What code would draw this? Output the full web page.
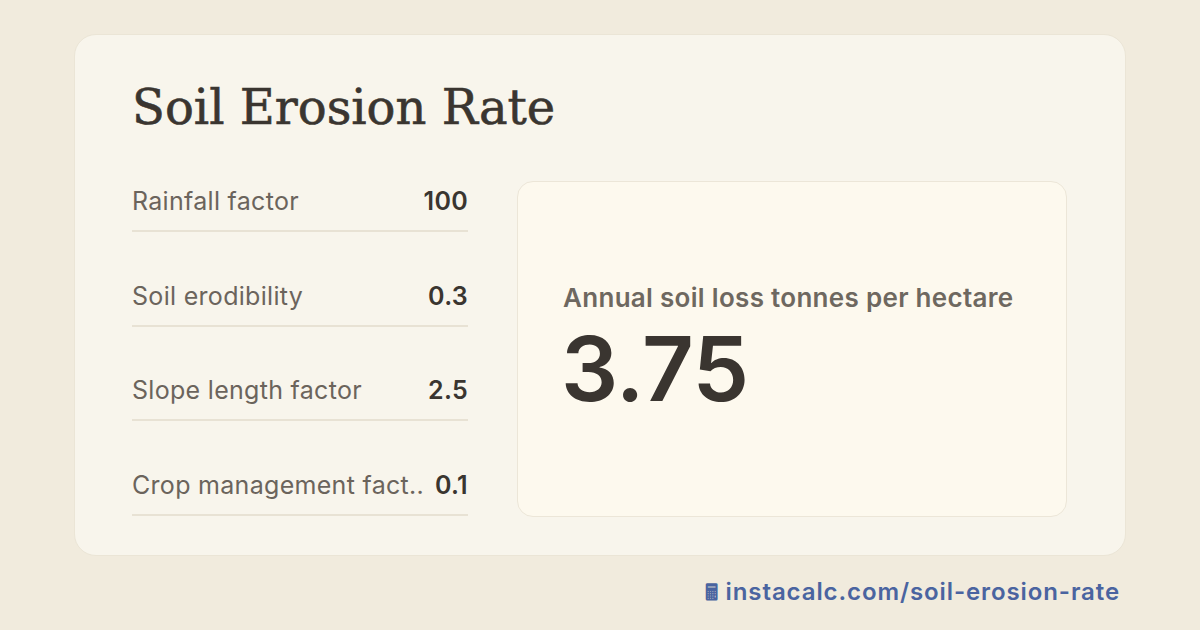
<!DOCTYPE html>
<html><head><meta charset="utf-8">
<script src="https://cdn.jsdelivr.net/npm/chart.js@4"></script>
<style>
body{margin:0;width:1200px;height:630px;background:#f1ebdd;font-family:Inter,"Noto Sans",sans-serif;position:relative;overflow:hidden}
.card{position:absolute;left:74px;top:34px;width:1050px;height:520px;background:#f8f5ec;border:1px solid #ebe5d6;border-radius:22px}
h1{position:absolute;left:132px;top:79px;margin:0;font-family:"DejaVu Serif","Liberation Serif",serif;font-weight:normal;font-size:48px;color:#3a3530;-webkit-text-stroke:0.6px #3a3530}
.row{position:absolute;left:132px;width:336px;height:48px;border-bottom:2px solid #e8e2d4;font-size:25px;color:#6b645c;letter-spacing:0.3px}
.row .l{position:absolute;left:0;top:4px;white-space:nowrap}
.row .v{position:absolute;right:0;top:4px;font-weight:600;color:#3a3530}
.res{position:absolute;left:517px;top:181px;width:548px;height:334px;background:#fdf9ee;border:1.5px solid #ece6d8;border-radius:16px}
.res .t{position:absolute;left:45px;top:100px;font-size:26px;font-weight:600;color:#6e6860;letter-spacing:0.3px;white-space:nowrap}
.res .n{position:absolute;left:43px;top:132px;font-size:90px;font-weight:600;color:#3a3530;letter-spacing:-0.5px}
.foot{position:absolute;right:80px;top:576px;font-size:24px;font-weight:600;color:#4a64a0;letter-spacing:0.9px}
</style></head><body>
<div class="card"></div>
<h1 id="title"></h1>
<div id="rows"></div>
<div class="res"><div class="t" id="rl"></div><div class="n" id="rv"></div></div>
<div class="foot"><span style="font-size:22px">&#128425;</span> <span id="url"></span></div>
<script>
// inputs shown on the left
var labels = ["Rainfall factor", "Soil erodibility", "Slope length factor", "Crop management factor"];
var values = ["100", "0.3", "2.5", "0.1"];
var resultLabel = "Annual soil loss tonnes per hectare";
var resultValue = "3.75";

document.getElementById("title").textContent = "Soil Erosion Rate";
document.getElementById("rl").textContent = resultLabel;
document.getElementById("rv").textContent = resultValue;
document.getElementById("url").textContent = "instacalc.com/soil-erosion-rate";
var tops = [182, 277, 371, 466];
var html = "";
for (var i = 0; i < labels.length; i++) {
  html += '<div class="row" style="top:' + tops[i] + 'px"><span class="l" title="' + labels[i] + '">' + labels[i] +
    '</span><span class="v">' + values[i] + '</span></div>';
}
document.getElementById("rows").innerHTML = html;
// shorten labels that run into the value
document.querySelectorAll(".row .l").forEach(function (el) {
  var full = el.textContent, n = full.length;
  while (el.offsetWidth > 298 && n > 1) { n--; el.textContent = full.slice(0, n).trimEnd() + ".."; }
});
</script>
</body></html>
